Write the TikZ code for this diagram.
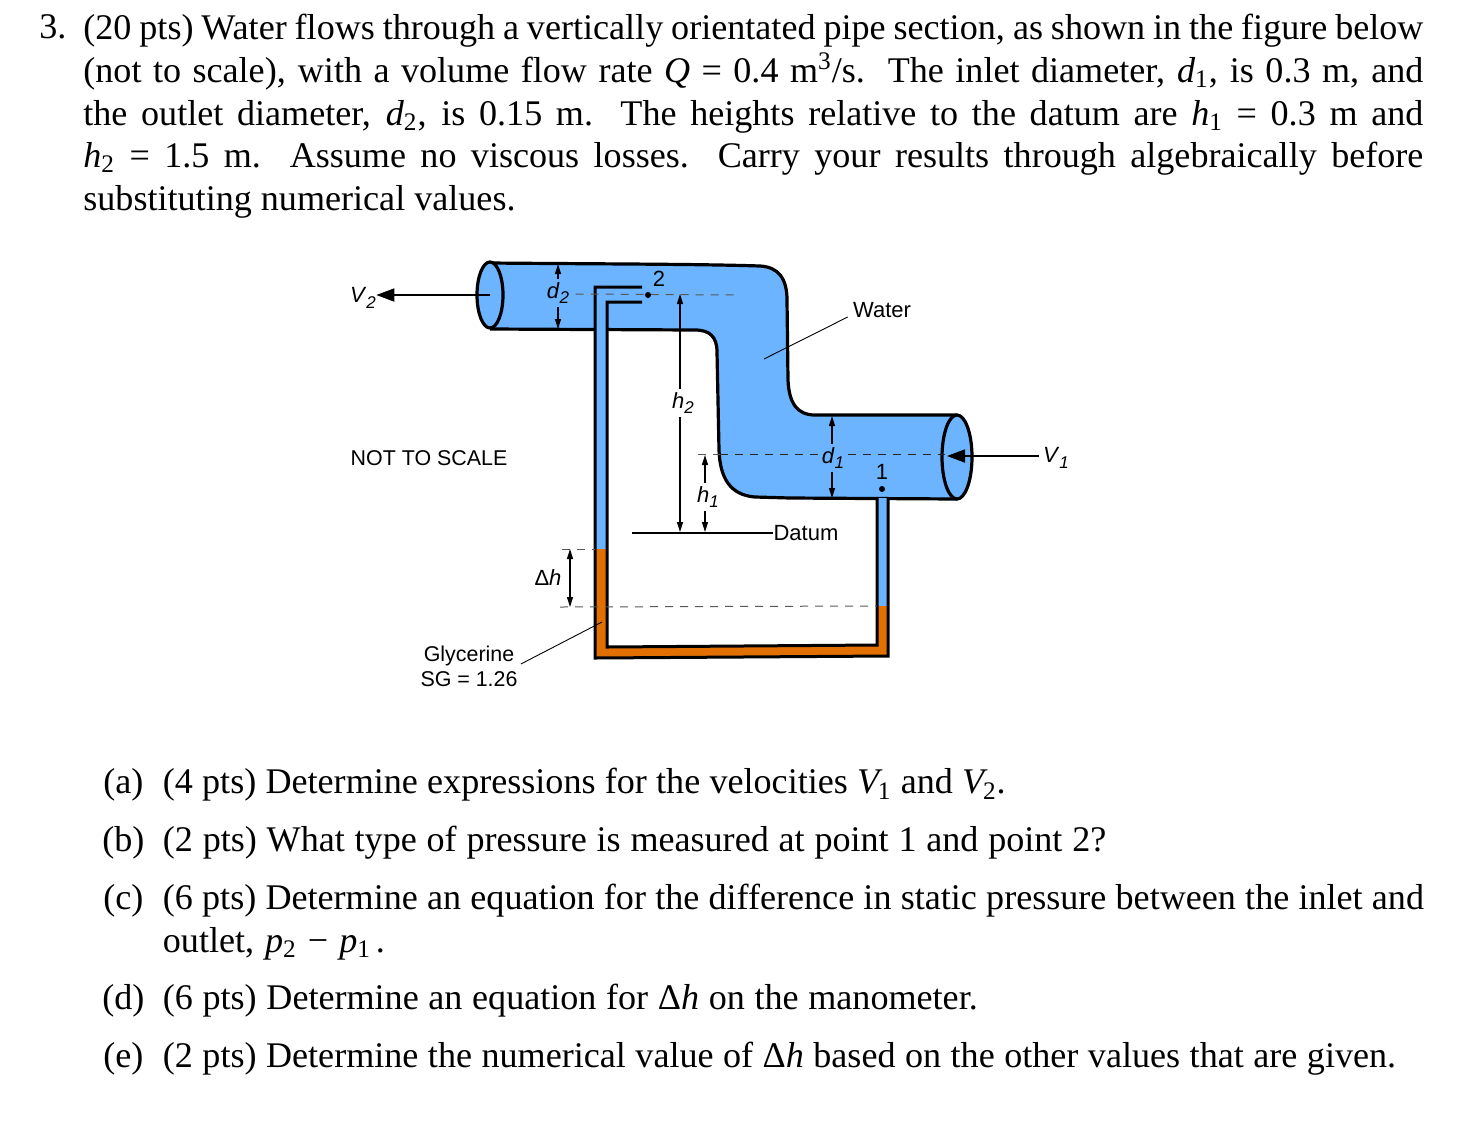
\documentclass[tikz,border=0pt]{standalone}
\usepackage{fontspec}
\setmainfont{Liberation Serif}
\setsansfont{Liberation Sans}
\usetikzlibrary{arrows.meta,positioning}
\definecolor{waterblue}{HTML}{6CB4FF}
\definecolor{glyorange}{HTML}{E27000}
\newcommand{\vsub}[2]{\textit{#1}\textsubscript{#2}}
\newcommand{\lsub}[2]{\textit{#1}\raisebox{-0.45ex}{\fontsize{8.5pt}{8.5pt}\selectfont\textit{#2}}}
\begin{document}
\begin{tikzpicture}[
        x=0.5pt, y=-0.5pt,
        txt/.style = {inner sep=0, anchor=north west, align=justify, font=\fontsize{18.05pt}{21.3pt}\selectfont},
        num/.style = {inner sep=0, anchor=north west, font=\fontsize{18.05pt}{21.3pt}\selectfont},
        lab/.style = {inner sep=0, font=\sffamily\fontsize{11pt}{12.5pt}\selectfont},
        labs/.style = {inner sep=0, font=\sffamily\fontsize{10.7pt}{12.5pt}\selectfont},
        dlab/.style = {inner sep=1.5pt, font=\sffamily\fontsize{11pt}{12.5pt}\selectfont},
        wall/.style = {line width=1.5pt, line join=miter},
        tube/.style = {line width=1.6pt},
        level/.style = {line width=0.5pt, gray!70!black, dash pattern=on 4pt off 3.5pt},
        leveld/.style = {line width=0.5pt, black!85, dash pattern=on 4pt off 3.5pt},
        dim/.style = {line width=0.6pt, -{Triangle[length=5pt,width=3pt]}},
        dimb/.style = {line width=0.6pt, {Triangle[length=5pt,width=3pt]}-{Triangle[length=5pt,width=3pt]}},
        flow/.style = {line width=0.9pt, -{Triangle[length=9pt,width=6.5pt]}},
        lead/.style = {line width=0.45pt},
        pt/.style = {circle, fill, inner sep=0, minimum size=3pt},
        ]
        \useasboundingbox (0,0) rectangle (1482,1120);
        % problem text
        \node[num](n3) at (39,14) {3.};
        \node[txt, text width=670pt](intro) at (83,14) {(20 pts) Water flows through a vertically orientated pipe section, as shown in the figure below\linebreak
        (not to scale), with a volume flow rate \textit{Q} = 0.4 m\textsuperscript{3}/s.\ \ The inlet diameter, \vsub{d}{1}, is 0.3 m, and\linebreak
        the outlet diameter, \vsub{d}{2}, is 0.15 m.\ \ The heights relative to the datum are \vsub{h}{1} = 0.3 m and\linebreak
        \vsub{h}{2} = 1.5 m.\ \ Assume no viscous losses.\ \ Carry your results through algebraically before\linebreak
        substituting numerical values.};
        % pipe
        \path[fill=waterblue] (490,262) -- (490,263) .. controls (600,264) and (700,264) .. (760,266)
            .. controls (778,267) and (787,278) .. (787,300) -- (788,380)
            .. controls (789,403) and (797,415) .. (815,415) -- (957,415)
            -- (957,499) -- (790,498) -- (755,497)
            .. controls (730,495) and (720,478) .. (719,450) -- (717,352)
            .. controls (717,337) and (710,330) .. (695,330) -- (490,329) -- cycle;
        \draw[tube] (490,263) .. controls (600,264) and (700,264) .. (760,266)
            .. controls (778,267) and (787,278) .. (787,300) -- (788,380)
            .. controls (789,403) and (797,415) .. (815,415) -- (957,415);
        \draw[tube] (490,329) -- (695,330) .. controls (710,330) and (717,337) .. (717,352)
            -- (719,450) .. controls (720,478) and (730,495) .. (755,497) -- (790,498) -- (957,499);
        \draw[tube, fill=waterblue] (490,295) ellipse [x radius=13, y radius=33];
        \draw[tube, fill=waterblue] (957,457) ellipse [x radius=15, y radius=42];
        % manometer
        \fill[waterblue] (596,302) rectangle (606,549);
        \fill[waterblue] (878,498) rectangle (887,606);
        \fill[glyorange] (595,549) -- (607,549) -- (607,647) -- (877,645) -- (877,606) -- (888,606) -- (888,656) -- (595,658) -- cycle;
        \draw[wall] (642,287) -- (595,287) -- (595,658) -- (888,656) -- (888,498);
        \draw[wall] (642,302) -- (607,302) -- (607,647) -- (877,645) -- (877,498);
        % labels that break the lines
        \node[dlab](d2) at (558,293) {\lsub{d}{2}};
        \node[dlab](d1) at (833,458) {\lsub{d}{1}};
        % dashed levels
        \draw[level] (d2.east) ++(3,1) -- (735,295);
        \draw[level] (698,454) -- (720,454);
        \draw[leveld] (720,454) -- (d1.west |- 0,454);
        \draw[leveld] (d1.east |- 0,454) -- (945,454);
        \draw[level] (562,549) -- (595,549);
        \draw[level] (560,607) -- (877,606);
        % points
        \node[pt](p2) at (648,295) {};
        \node[pt](p1) at (882,489) {};
        \node[lab, above right=3pt and 1pt of p2](lab2) {2};
        \node[lab, above=3pt of p1](lab1) {1};
        % datum
        \node[lab](datum) at (806,533) {Datum};
        \coordinate (dstart) at (632,533);
        \draw[line width=0.9pt] (dstart) -- (datum.west);
        % d2
        \coordinate (d2top) at (558,264);
        \coordinate (d2bot) at (558,329);
        \draw[dim] (d2.north) -- (d2top);
        \draw[dim] (d2.south) -- (d2bot);
        % d1
        \coordinate (d1top) at (832,416);
        \coordinate (d1bot) at (832,498);
        \draw[dim] (d1.north -| d1top) -- (d1top);
        \draw[dim] (d1.south -| d1bot) -- (d1bot);
        % h2
        \node[dlab](h2) at (683,403) {\lsub{h}{2}};
        \coordinate (h2top) at (680,294);
        \coordinate (h2bot) at (680,532);
        \draw[dim] (h2.north -| h2top) -- (h2top);
        \draw[dim] (h2.south -| h2bot) -- (h2bot);
        % h1
        \node[dlab](h1) at (708,497) {\lsub{h}{1}};
        \coordinate (h1top) at (705,455);
        \coordinate (h1bot) at (705,532);
        \draw[dim] (h1.north -| h1top) -- (h1top);
        \draw[dim] (h1.south -| h1bot) -- (h1bot);
        % flow arrows
        \node[lab](v2) at (363,298) {\lsub{V}{2}};
        \coordinate (v2start) at (490,295);
        \draw[flow] (v2start) -- (v2.east |- v2start);
        \node[lab](v1) at (1056,458) {\lsub{V}{1}};
        \coordinate (v1end) at (947,456);
        \draw[flow] (v1.west |- v1end) ++(-4,0) -- (v1end);
        % dh
        \node[lab](dh) at (548,578) {Δ\textit{h}};
        \coordinate (dhtop) at (570,549);
        \coordinate (dhbot) at (570,607);
        \draw[dimb] (dhtop) -- (dhbot);
        % other labels
        \node[lab](water) at (882,310) {Water};
        \coordinate (waterend) at (764,359);
        \draw[lead] (water.west) ++(-5,7) -- (waterend);
        \node[labs](nts) at (429,458) {NOT TO SCALE};
        \node[labs, align=center](gly) at (469,666) {Glycerine\\SG = 1.26};
        \coordinate (glyend) at (602,622);
        \draw[lead] (gly.east) ++(3,-2) -- (glyend);
        % questions
        \node[num](la) at (103,768) {(a)};
        \node[txt, text width=630pt](qa) at (162.5,768) {\spaceskip=4.62pt (4 pts) Determine expressions for the velocities \vsub{V\kern-0.6pt}{1} and \vsub{V\kern-0.6pt}{2}.};
        \node[num](lb) at (102,826) {(b)};
        \node[txt, text width=630pt](qb) at (162.5,826) {\spaceskip=4.9pt (2 pts) What type of pressure is measured at point 1 and point 2?};
        \node[num](lc) at (103,884) {(c)};
        \node[txt, text width=630.5pt](qc) at (162.5,884) {(6 pts) Determine an equation for the difference in static pressure between the inlet and\linebreak
        outlet,\kern1pt\ \vsub{p}{2}\kern1pt\ −\kern1pt\ \vsub{p}{1}\kern2.5pt.};
        \node[num](ld) at (102,984) {(d)};
        \node[txt, text width=630pt](qd) at (162.5,984) {\spaceskip=4.83pt (6 pts) Determine an equation for Δ\textit{h} on the manometer.};
        \node[num](le) at (103,1042) {(e)};
        \node[txt, text width=630pt](qe) at (162.5,1042) {\spaceskip=4.75pt (2 pts) Determine the numerical value of Δ\textit{h} based on the other values that are given.};
\end{tikzpicture}
\end{document}
